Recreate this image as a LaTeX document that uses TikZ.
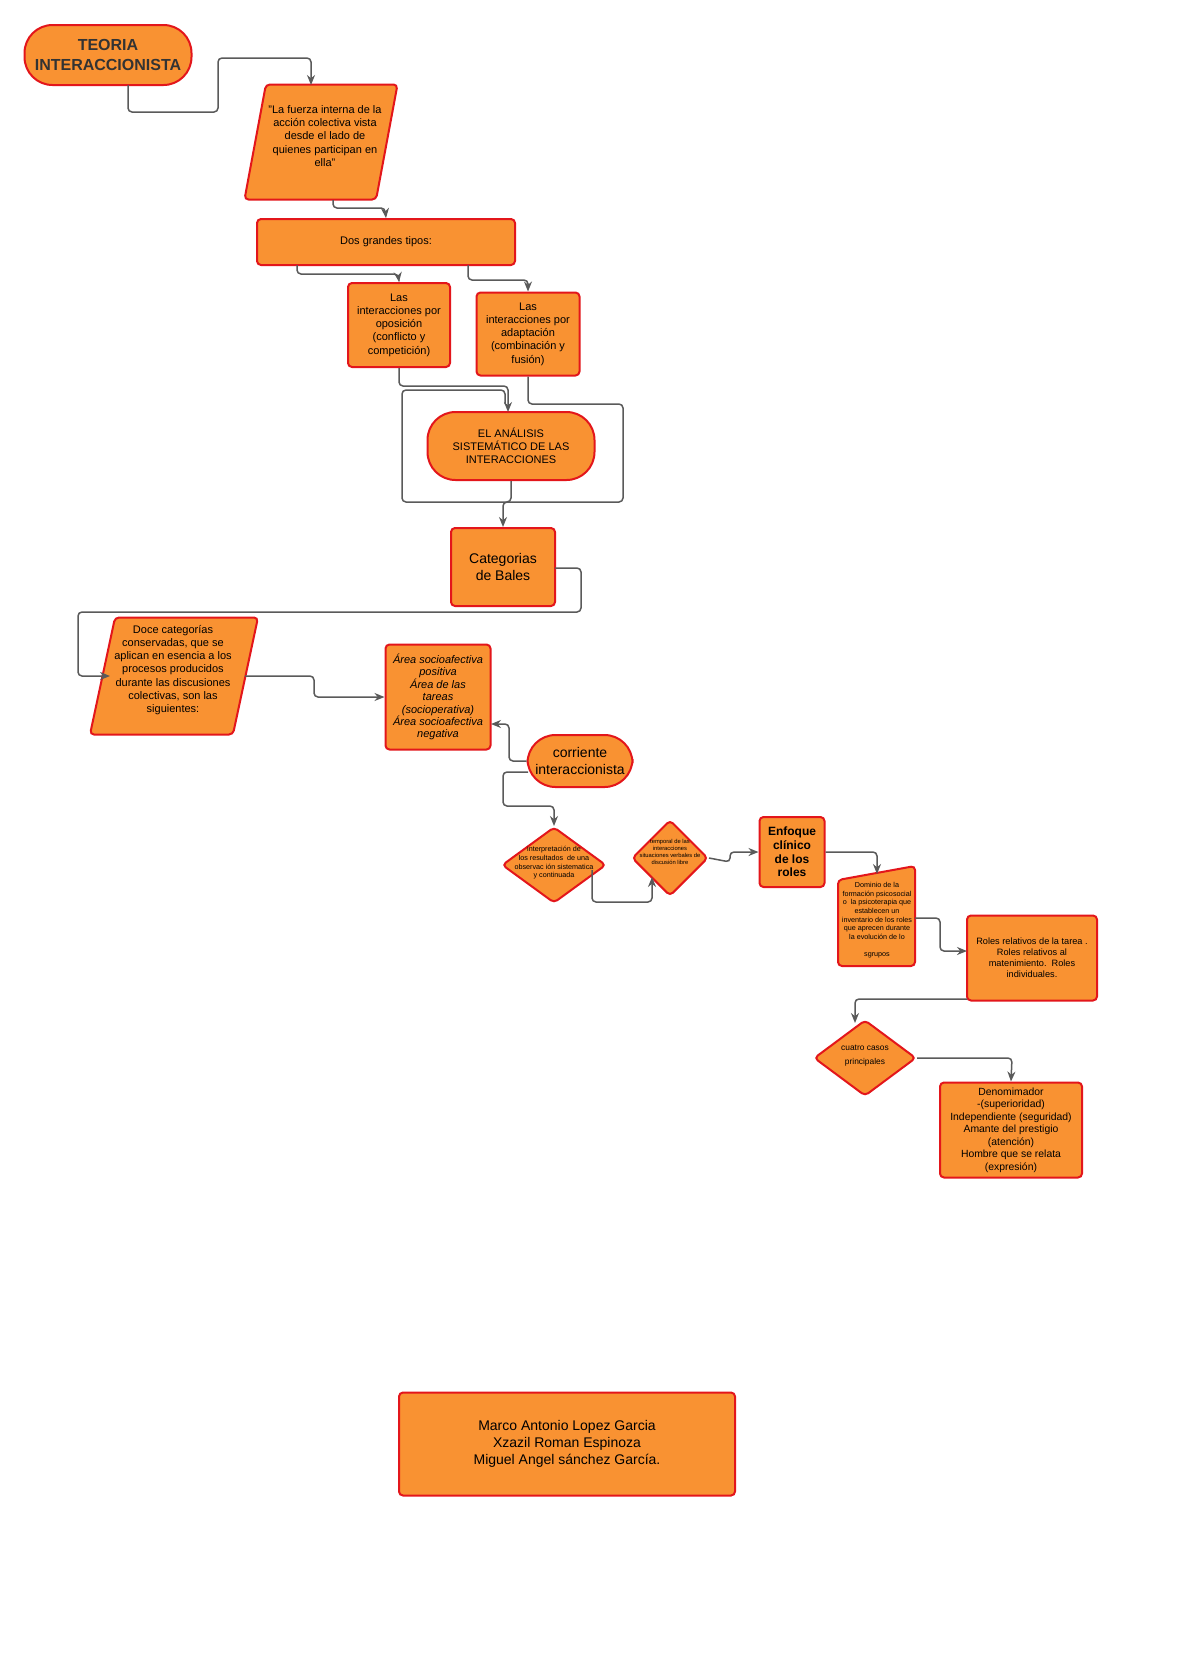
\documentclass[tikz,border=0pt]{standalone}
\usepackage{fontspec}
\setmainfont{Liberation Sans}
\usetikzlibrary{shapes.geometric,arrows.meta}
\definecolor{fillo}{HTML}{F99232}
\definecolor{edge}{HTML}{E3161B}
\definecolor{conn}{HTML}{5A5A5A}
\tikzset{
 x=0.5pt,y=-0.5pt,
 sh/.style={draw=edge,fill=fillo,line width=1pt,align=center,inner sep=1pt},
 box/.style={sh,rounded corners=2pt},
 pill/.style={sh,rounded corners=14pt},
 para/.style={sh,trapezium,trapezium stretches=true,rounded corners=2pt},
 dia/.style={sh,diamond,inner sep=0pt,rounded corners=2pt},
 arr/.style={draw=conn,line width=0.75pt,rounded corners=2pt,-{Stealth[length=5pt,width=4pt]}},
 ln/.style={draw=conn,line width=0.75pt,rounded corners=2pt},
 fs/.style={font=\fontsize{#1pt}{1.2\dimexpr#1pt\relax}\selectfont}
}
\begin{document}
\begin{tikzpicture}
\fill[white] (0,0) rectangle (1200,1656);
% nodes
\node[pill,minimum width=83.5pt,minimum height=30pt,font=\fontsize{8}{10}\selectfont\bfseries,text=black!80] (teoria) at (108,55) {TEORIA\\INTERACCIONISTA};
\node[para,trapezium left angle=79,trapezium right angle=101,minimum width=76.5pt,minimum height=57.5pt] (fuerza) at (321,142) {};
\node[fs=5.5,align=center] (fuerzat) at (325,136) {"La fuerza interna de la\\acción colectiva vista\\desde el lado de\\quienes participan en\\ella"};
\node[box,minimum width=129pt,minimum height=23pt,fs=5.5] (dos) at (386,242) {Dos grandes tipos:};
\node[box,minimum width=51pt,minimum height=42pt,fs=5.5] (opo) at (399,325) {Las\\interacciones por\\oposición\\(conflicto y\\competición)};
\node[box,minimum width=51.5pt,minimum height=41.5pt,fs=5.5] (ada) at (528,334) {Las\\interacciones por\\adaptación\\(combinación y\\fusión)};
\node[pill,minimum width=83.5pt,minimum height=34pt,fs=5.5] (ana) at (511,446) {EL ANÁLISIS\\SISTEMÁTICO DE LAS\\INTERACCIONES};
\node[box,minimum width=52pt,minimum height=39pt,fs=7] (bales) at (503,567) {Categorias\\de Bales};
\node[para,trapezium left angle=78,trapezium right angle=102,minimum width=84pt,minimum height=58.5pt] (doce) at (174,676) {};
\node[fs=5.5,align=center] (docet) at (173,670) {Doce categorías\\conservadas, que se\\aplican en esencia a los\\procesos producidos\\durante las discusiones\\colectivas, son las\\siguientes:};
\node[box,minimum width=52.5pt,minimum height=52.5pt,font=\fontsize{5.5}{6.2}\selectfont\itshape] (area) at (438,697) {Área socioafectiva\\positiva\\Área de las\\tareas\\(socioperativa)\\Área socioafectiva\\negativa};
\node[pill,minimum width=52.5pt,minimum height=26pt,fs=7] (corr) at (580,761) {corriente\\interaccionista};
\node[dia,minimum width=52pt,minimum height=38pt] (d1) at (554,865) {};
\node[fs=3.6,align=center] (d1t) at (554,863) {interpretación de\\los resultados\ \ de una\\observac ión sistematica\\y continuada};
\node[dia,minimum width=38pt,minimum height=38pt] (d2) at (670,858) {};
\node[fs=2.9,align=center] (d2t) at (670,852) {temporal de las\\interacciones\\situaciones verbales de\\discusión libre};
\node[box,minimum width=32.5pt,minimum height=35pt,font=\fontsize{6}{6.8}\selectfont\bfseries] (enf) at (792,852) {Enfoque\\clínico\\de los\\roles};
\draw[draw=edge,fill=fillo,line width=1pt,rounded corners=2pt] (838,880)--(915,866)--(915,966)--(838,966)--cycle;
\node[fs=3.6,align=center] (dom) at (877,920) {Dominio de la\\formación psicosocial\\o\ \ la psicoterapia que\\establecen un\\inventario de los roles\\que aprecen durante\\la evolución de lo\\[4pt]sgrupos};
\node[box,minimum width=65pt,minimum height=42.5pt,fs=4.6] (roles) at (1032,958) {Roles relativos de la tarea .\\Roles relativos al\\matenimiento.\ \ Roles\\individuales.};
\node[dia,minimum width=51pt,minimum height=38pt] (d3) at (865,1058) {};
\node[font=\fontsize{4.2}{7}\selectfont,align=center] (d3t) at (865,1056) {cuatro casos\\principales};
\node[box,minimum width=71pt,minimum height=47.5pt,fs=5.2] (den) at (1011,1130) {Denomimador\\-(superioridad)\\Independiente (seguridad)\\Amante del prestigio\\(atención)\\Hombre que se relata\\(expresión)};
\node[box,minimum width=168pt,minimum height=51.5pt,fs=7] (auth) at (567,1444) {Marco Antonio Lopez Garcia\\Xzazil Roman Espinoza\\Miguel Angel sánchez García.};
% connectors
\draw[arr] (128,85) -- (128,112) -- (218,112) -- (218,58) -- (311,58) -- (311,85);
\draw[arr] (333,200) -- (333,208) -- (385,208) -- (dos.north);
\draw[arr] (297,265) -- (297,274) -- (398,274) -- (opo.north);
\draw[arr] (468,265) -- (468,280) -- (528,280) -- (ada.north);
\draw[arr] (opo.south) -- (399,386) -- (508,386) -- (508,412);
\draw[ln] (ada.south) -- (528,404) -- (623,404) -- (623,502) -- (402,502) -- (402,390) -- (505,390) -- (505,404);
\draw[arr] (ana.south) -- (511,502) -- (503,502) -- (bales.north);
\draw[arr] (555,568) -- (581,568) -- (581,612) -- (78,612) -- (78,676) -- (110,676);
\draw[arr] (245,676) -- (314,676) -- (314,697) -- (area.west);
\draw[arr] (corr.west) -- (509,761) -- (509,724) -- (491,724);
\draw[arr] (528,772) -- (503,772) -- (503,806) -- (554,806) -- (d1.north);
\draw[arr] (592,870) -- (592,902) -- (652,902) -- (652,877);
\draw[arr] (d2.east) -- (730,862) -- (730,852) -- (enf.west);
\draw[arr] (enf.east) -- (877,852) -- (877,874);
\draw[arr] (915,918) -- (940,918) -- (940,951) -- (967,951);
\draw[arr] (967,999) -- (855,999) -- (855,1023);
\draw[arr] (d3.east) -- (1012,1058) -- (den.north);
\end{tikzpicture}
\end{document}
